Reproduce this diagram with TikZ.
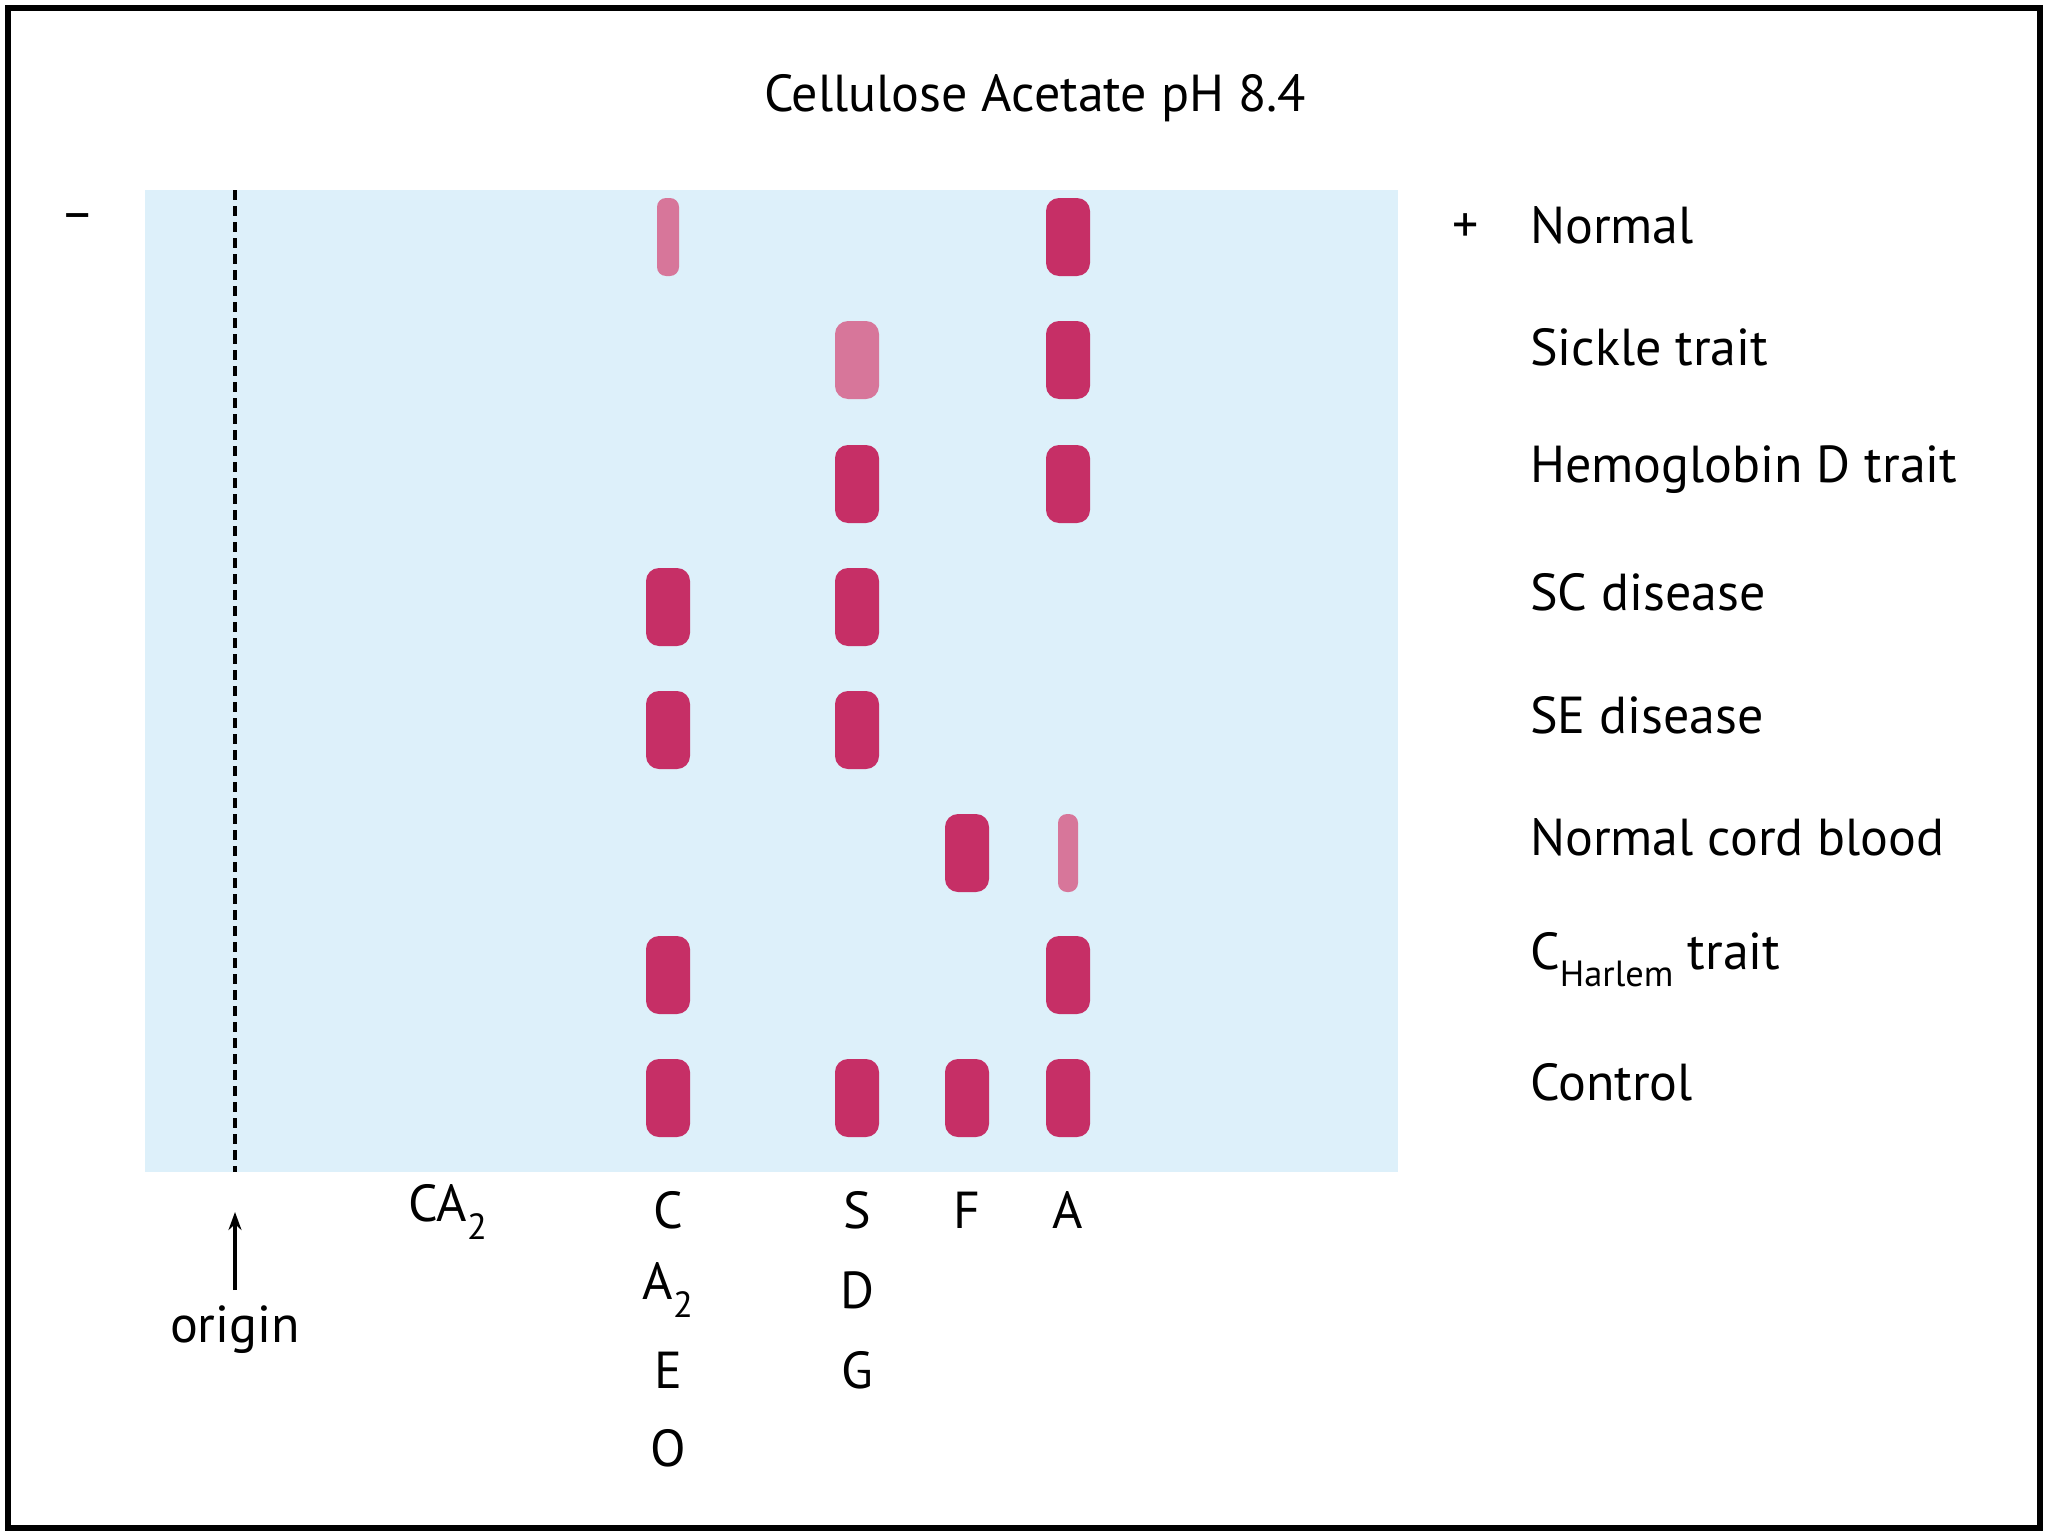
\documentclass[tikz,border=0pt]{standalone}
\usepackage{fontspec}
\setmainfont{PT Sans}
\usetikzlibrary{arrows.meta}
\begin{document}
\begin{tikzpicture}[x=1pt,y=-1pt,
  lbl/.style={anchor=west,inner sep=0pt,font=\fontsize{52}{60}\selectfont},
  bl/.style={inner sep=0pt,font=\fontsize{52}{60}\selectfont},
  band/.style={fill=bandc,rounded corners=13pt,minimum width=44pt,minimum height=78pt,inner sep=0pt},
  thin/.style={fill=bandl,rounded corners=9pt,minimum width=22pt,minimum height=78pt,inner sep=0pt},
  lband/.style={band,fill=bandl}]
\definecolor{bgc}{HTML}{DDF0FA}
\definecolor{bandc}{HTML}{C62F66}
\definecolor{bandl}{HTML}{D7769A}
\useasboundingbox (0,0) rectangle (2048,1536);
\fill[white] (0,0) rectangle (2048,1536);
\draw[line width=6pt] (8,8) rectangle (2040,1528);
\fill[bgc] (145,190) rectangle (1398,1172);
\draw[line width=3.5pt,dash pattern=on 10pt off 6pt] (235,190) -- (235,1172);
\node[bl] (title) at (1035,98) {Cellulose Acetate pH 8.4};
\node[bl] (minus) at (78,222) {\textendash};
\node[bl] (plus) at (1466,228) {+};
% rows
\foreach \y/\t [count=\i] in {225/Normal,347/Sickle trait,470/Hemoglobin D trait,592/SC disease,715/SE disease,837/Normal cord blood,960/{C\textsubscript{Harlem} trait},1082/Control}
  \node[lbl] (r\i) at (1530,\y) {\t};
% bands
\node[thin] (b1c) at (668,237) {};
\node[band] (b1a) at (1068,237) {};
\node[lband] (b2s) at (857,360) {};
\node[band] (b2a) at (1068,360) {};
\node[band] (b3s) at (857,484) {};
\node[band] (b3a) at (1068,484) {};
\node[band] (b4c) at (668,607) {};
\node[band] (b4s) at (857,607) {};
\node[band] (b5c) at (668,730) {};
\node[band] (b5s) at (857,730) {};
\node[band] (b6f) at (967,853) {};
\node[thin,minimum width=20pt] (b6a) at (1068,853) {};
\node[band] (b7c) at (668,975) {};
\node[band] (b7a) at (1068,975) {};
\node[band] (b8c) at (668,1098) {};
\node[band] (b8s) at (857,1098) {};
\node[band] (b8f) at (967,1098) {};
\node[band] (b8a) at (1068,1098) {};
% bottom labels
\node[bl] (ca2) at (448,1212) {CA\textsubscript{2}};
\node[bl] (lc) at (668,1210) {C};
\node[bl] (la2) at (668,1290) {A\textsubscript{2}};
\node[bl] (le) at (668,1370) {E};
\node[bl] (lo) at (668,1448) {O};
\node[bl] (ls) at (857,1210) {S};
\node[bl] (ld) at (857,1290) {D};
\node[bl] (lg) at (857,1370) {G};
\node[bl] (lf) at (967,1210) {F};
\node[bl] (la) at (1068,1210) {A};
\node[bl] (origin) at (235,1330) {origin};
\coordinate (arrtop) at (235,1212);
\draw[line width=3.5pt,-{Stealth[length=18pt,width=13pt]}] (235,1290) -- (arrtop);
\end{tikzpicture}
\end{document}
